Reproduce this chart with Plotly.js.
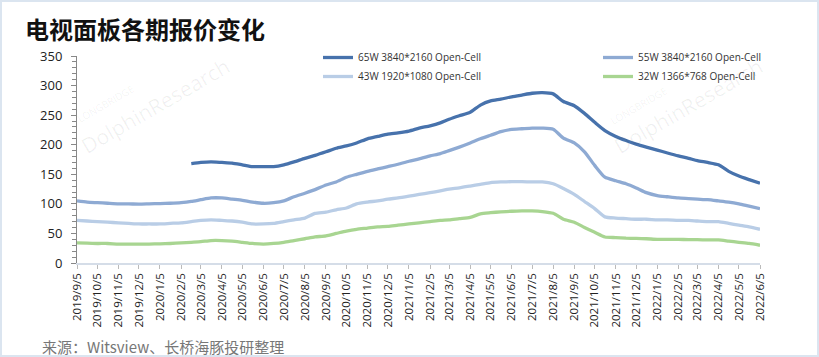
<!DOCTYPE html>
<html>
<head>
<meta charset="utf-8">
<script src="https://cdn.plot.ly/plotly-3.0.1.min.js"></script>
<style>
html,body{margin:0;padding:0;background:#fff;}
#chart{width:819px;height:357px;}
</style>
</head>
<body>
<div id="chart"></div>
<script>
// ---- data (semi-monthly quotes, USD) ----
const dates = [
 "2019-09-05","2019-09-20","2019-10-05","2019-10-20","2019-11-05","2019-11-20","2019-12-05","2019-12-20",
 "2020-01-05","2020-01-20","2020-02-05","2020-02-20","2020-03-05","2020-03-20","2020-04-05","2020-04-20",
 "2020-05-05","2020-05-20","2020-06-05","2020-06-20","2020-07-05","2020-07-20","2020-08-05","2020-08-20",
 "2020-09-05","2020-09-20","2020-10-05","2020-10-20","2020-11-05","2020-11-20","2020-12-05","2020-12-20",
 "2021-01-05","2021-01-20","2021-02-05","2021-02-20","2021-03-05","2021-03-20","2021-04-05","2021-04-20",
 "2021-05-05","2021-05-20","2021-06-05","2021-06-20","2021-07-05","2021-07-20","2021-08-05","2021-08-20",
 "2021-09-05","2021-09-20","2021-10-05","2021-10-20","2021-11-05","2021-11-20","2021-12-05","2021-12-20",
 "2022-01-05","2022-01-20","2022-02-05","2022-02-20","2022-03-05","2022-03-20","2022-04-05","2022-04-20",
 "2022-05-05","2022-05-20","2022-06-05"
];
const names = ["65W 3840*2160 Open-Cell","55W 3840*2160 Open-Cell","43W 1920*1080 Open-Cell","32W 1366*768 Open-Cell"];
const w65 = [null,null,null,null,null,null,null,null,null,null,null,
 168,170,171,170,169,166,163,163,163,166,171,177,182,188,194,198,203,210,214,218,220,
 223,228,232,237,243,249,255,267,274,277,281,284,287,288,286,273,266,253,238,224,214,207,201,196,
 191,186,181,177,173,170,166,155,147,141,135];
const w55 = [105,103,102,101,100,100,99.5,100,
 100.5,101,102,104,107,110,110,108,106,103,101,102,105,112,118,124,132,137,145,150,155,159,163,167,
 172,176,181,185,190,196,203,210,216,222,226,227,228,228,226,211,203,188,165,145,139,134,127,119,
 114,112,110,109,108,107,105,103,100,96,92];
const w43 = [72,71,70,69,68,67,66,66,
 66,67,68,70,72,73,72,71,69,66,66,67,70,73,76,84,86,90,93,100,103,105,108,110,
 113,116,119,122,125,127,130,133,136,137,137.5,137.5,137,137,134,126,116,104,92,78,76,75,74,74,
 73,73,72,72,71,70,70,67,64,61,57];
const w32 = [34,33.5,33,33,32,32,32,32,
 32.5,33,34,35,36,38,38,37,35,33,32,33,35,38,41,44,46,50,54,57,59,61,62,64,
 66,68,70,72,73,75,77,83,85,86.5,87.5,88,88,87,84,74,69,60,52,44,43,42,41.5,41,
 40,40,40,39.5,39.5,39,39,37,35,33,30];
const series = [w65, w55, w43, w32];
const yTicks = [0,50,100,150,200,250,300,350];

// ---- styles ----
const colors = ["#4772AC","#8EAAD3","#B9CDE6","#A8D591"];
const legendOf = ["legend","legend2","legend","legend2"];

const traces = series.map((ys,i)=>({
  x: dates, y: ys, name: names[i], type:"scatter", mode:"lines",
  line:{color:colors[i], width:3.3, shape:"spline", smoothing:0.6},
  legend: legendOf[i],
  connectgaps:false, hoverinfo:"skip"
}));

const W=819,H=357, L=77, R=59, T=56, B=94;
const pw=W-L-R, ph=H-T-B;
const px = x => (x-L)/pw;
const py = y => (H-B-y)/ph;

const legFont = {size:10, color:"#333", family:"'Open Sans','Noto Sans',sans-serif"};
const wmColor = "rgba(0,0,0,0.06)";
const wm = (text,x,y,size)=>({text:text, xref:"paper", yref:"paper", x:px(x), y:py(y),
   xanchor:"center", yanchor:"middle", showarrow:false, textangle:-30,
   font:{size:size, color:wmColor, family:"'Open Sans',sans-serif"}});

const layout = {
  width:W, height:H,
  margin:{l:L,r:R,t:T,b:B,pad:0},
  paper_bgcolor:"#fff", plot_bgcolor:"rgba(0,0,0,0)",
  font:{family:"'Noto Sans CJK SC','Noto Sans',sans-serif", color:"#222"},
  title:{text:"<b>电视面板各期报价变化</b>", x:25/W, xanchor:"left", xref:"container",
         y:1-31/H, yanchor:"middle", yref:"container",
         font:{size:24, color:"#111", family:"'Noto Sans CJK SC',sans-serif"}},
  showlegend:true,
  legend:{orientation:"v", x:px(318), xanchor:"left", y:py(43), yanchor:"top",
          font:legFont, bgcolor:"rgba(0,0,0,0)", itemwidth:30, traceorder:"normal"},
  legend2:{orientation:"v", x:px(598), xanchor:"left", y:py(43), yanchor:"top",
          font:legFont, bgcolor:"rgba(0,0,0,0)", itemwidth:30, traceorder:"normal"},
  xaxis:{type:"date", range:["2019-09-05","2022-06-05"], tick0:"2019-09-05", dtick:"M1",
         tickformat:"%Y/%-m/%-d", tickangle:-90, ticks:"outside", ticklen:4, tickcolor:"#bbb",
         showline:true, linecolor:"#d5dde8", linewidth:1.5, showgrid:false, zeroline:false,
         tickfont:{size:11.5, color:"#222", family:"'Open Sans','Noto Sans',sans-serif"}, fixedrange:true},
  yaxis:{range:[0,350], tickvals:yTicks, ticks:"outside", ticklen:5, tickcolor:"#888",
         minor:{dtick:10, ticks:"outside", ticklen:4, tickcolor:"#888"},
         showline:true, linecolor:"#888", linewidth:1, showgrid:false, zeroline:false,
         tickfont:{size:13, color:"#222", family:"'Open Sans','Noto Sans',sans-serif"}, ticklabelstandoff:6, fixedrange:true},
  annotations:[
    wm("LONGBRIDGE",105,104,10), wm("DolphinResearch",155,106,21),
    wm("LONGBRIDGE",638,106,10), wm("DolphinResearch",688,106,21),
    {text:"来源：Witsview、长桥海豚投研整理", xref:"paper", yref:"paper", x:px(40), y:py(346),
     xanchor:"left", yanchor:"middle", showarrow:false,
     font:{size:15, color:"#777", family:"'Noto Sans CJK SC',sans-serif"}}
  ],
  shapes:[
    {type:"rect", xref:"paper", yref:"paper", x0:px(1), x1:px(W-1), y0:py(H-1), y1:py(1),
     line:{color:"#dbe5f0", width:2}, fillcolor:"rgba(0,0,0,0)", layer:"below"}
  ]
};

Plotly.newPlot("chart", traces, layout, {staticPlot:true, displayModeBar:false});
</script>
</body>
</html>
